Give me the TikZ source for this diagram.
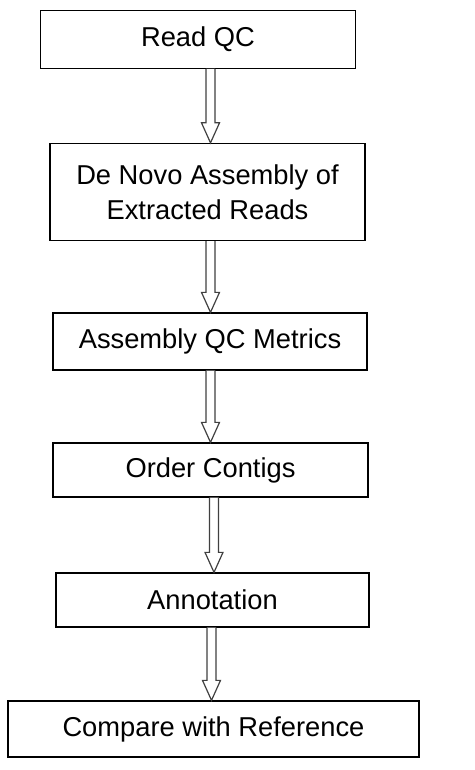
\documentclass[tikz,border=0pt]{standalone}
\usepackage{fontspec}
\setmainfont{Liberation Sans}
\usetikzlibrary{calc}
\tikzset{
  stepbox/.style={draw=black, line width=1.3pt, fill=white, inner sep=0pt, align=center,
    font=\fontsize{27.3}{35}\selectfont, text=black},
  blk/.style={draw=black!75, line width=1.2pt, fill=white, line join=miter},
}
\begin{document}
\begin{tikzpicture}[x=1pt,y=-1pt]
\useasboundingbox (0,0) rectangle (474,770);
\node[stepbox, minimum width=315pt, minimum height=58pt] (n1) at (198,39.3) {Read QC};
\node[stepbox, minimum width=315pt, minimum height=97pt] (n2) at (207.5,192) {De Novo Assembly of\\Extracted Reads};
\node[stepbox, minimum width=314pt, minimum height=57pt] (n3) at (210,341.5) {Assembly QC Metrics};
\node[stepbox, minimum width=315pt, minimum height=54pt] (n4) at (210.5,470) {Order Contigs};
\node[stepbox, minimum width=313pt, minimum height=54pt] (n5) at (212.5,600) {Annotation};
\node[stepbox, minimum width=411pt, minimum height=56pt] (n6) at (213.5,729) {Compare with Reference};
\foreach \a/\b/\xx in {n1/n2/210.5, n2/n3/210.5, n3/n4/210.5, n4/n5/214, n5/n6/211.5}{
  \draw[blk] let \p1=(\a.south), \p2=(\b.north) in
    ({\xx*1pt-4.5pt},\y1) -- ({\xx*1pt-4.5pt},\y2+20pt) -- ({\xx*1pt-9pt},\y2+20pt)
    -- ({\xx*1pt},\y2) -- ({\xx*1pt+9pt},\y2+20pt) -- ({\xx*1pt+4.5pt},\y2+20pt)
    -- ({\xx*1pt+4.5pt},\y1);
}
\end{tikzpicture}
\end{document}
